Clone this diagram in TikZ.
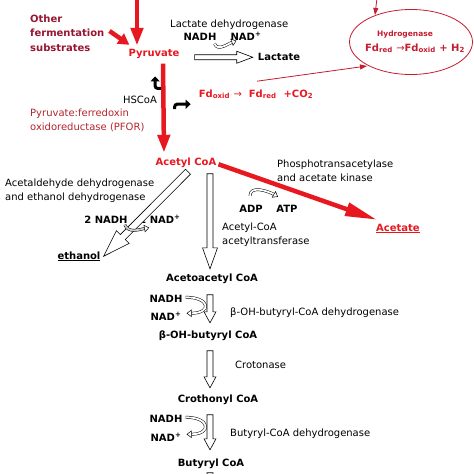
\documentclass[tikz,border=0pt]{standalone}
\usepackage{fontspec}
\setmainfont{DejaVu Sans}
\usetikzlibrary{arrows.meta, calc, shapes.geometric}
\definecolor{fluxred}{RGB}{232,24,32}
\definecolor{subred}{RGB}{150,22,48}
\definecolor{pforred}{RGB}{178,38,44}
\definecolor{hydred}{RGB}{198,28,48}
\tikzset{
    metab/.style={font=\bfseries, inner sep=1pt, anchor=base, text height=8pt, text depth=2.5pt}, % metabolites and cofactors
    enzyme/.style={align=left, inner sep=0pt, font=\fontsize{10}{14}\selectfont}, % enzyme names
    redflux/.style={fluxred, line width=4.5pt, -{Triangle[length=18pt, width=12pt]}}, % main red fluxes
    thinflux/.style={hydred, line width=0.8pt, -{Triangle[length=7pt, width=5pt]}},
    bent/.style={line width=3pt, rounded corners=2.5pt, -{Triangle[length=5pt, width=9pt]}},
    hollowline/.style={draw=black, fill=white, line width=0.6pt},
    hollowbend/.style={line width=0.5pt, double=white, double distance=1.8pt, -{Triangle[fill=white, length=5pt, width=7.5pt, line width=0.5pt]}}
}
% open block arrow: start, end, shaft half width, head half width, head length
\newcommand{\hollowarrow}[5]{%
  \draw[hollowline] let \p1=(#1), \p2=(#2),
    \n1={atan2(\y2-\y1,\x2-\x1)}, \n2={veclen(\x2-\x1,\y2-\y1)} in
    ($(\p1)+({\n1-90}:#3)$) -- ($(\p1)+(\n1:{\n2-#5})+({\n1-90}:#3)$)
    -- ($(\p1)+(\n1:{\n2-#5})+({\n1-90}:#4)$) -- (\p2)
    -- ($(\p1)+(\n1:{\n2-#5})+({\n1+90}:#4)$) -- ($(\p1)+(\n1:{\n2-#5})+({\n1+90}:#3)$)
    -- ($(\p1)+({\n1+90}:#3)$) -- cycle;
}

\begin{document}
\begin{tikzpicture}[x=1pt, y=-1pt]
    \useasboundingbox (0,0) rectangle (474,474);

    % metabolites
    \node[metab, fluxred] (pyruvate) at (154,56) {Pyruvate};
    \node[metab] (lactate) at (279,60) {Lactate};
    \node[metab, fluxred] (acetylcoa) at (186,165) {Acetyl CoA};
    \node[metab, fluxred] (acetate) at (398,231) {\underline{Acetate}};
    \node[metab] (ethanol) at (79,259) {\underline{ethanol}};
    \node[metab] (acetoacetyl) at (212,281) {Acetoacetyl CoA};
    \node[metab] (hydroxy) at (208,338) {β-OH-butyryl CoA};
    \node[metab] (crotonyl) at (218,402) {Crothonyl CoA};
    \node[metab] (butyryl) at (211,466) {Butyryl CoA};
    \node[enzyme, anchor=west, subred, font=\bfseries\fontsize{10}{14.5}\selectfont] (other) at (30,33) {Other\\fermentation\\substrates};

    % cofactors
    \node[metab] (ldhnadh) at (200,40) {NADH};
    \node[metab] (ldhnad) at (246,40) {NAD\textsuperscript{+}};
    \node[metab] (nadh2) at (106,223) {2 NADH};
    \node[metab] (nad2) at (160,223) {2 NAD\textsuperscript{+}};
    \node[metab] (adp) at (251,212) {ADP};
    \node[metab] (atp) at (287,212) {ATP};
    \node[metab] (bnadh) at (166,302) {NADH};
    \node[metab] (bnad) at (166,320) {NAD\textsuperscript{+}};
    \node[metab] (cnadh) at (166,422) {NADH};
    \node[metab] (cnad) at (166,441) {NAD\textsuperscript{+}};
    \node[inner sep=1pt, anchor=base] (hscoa) at (140,103) {HSCoA};
    \node[inner sep=1pt, anchor=base, fluxred, font=\bfseries] (fdox) at (256,97) {Fd\textsubscript{oxid} {\mdseries →} \ Fd\textsubscript{red} \ +CO\textsubscript{2}};

    % enzymes
    \node[enzyme, anchor=base west] (ldh) at (170,27) {Lactate dehydrogenase};
    \node[enzyme, anchor=west, pforred] (pfor) at (30,120) {Pyruvate:ferredoxin\\oxidoreductase (PFOR)};
    \node[enzyme, anchor=west] (pta) at (277,171) {Phosphotransacetylase\\and acetate kinase};
    \node[enzyme, anchor=west] (aad) at (5,191) {Acetaldehyde dehydrogenase\\and ethanol dehydrogenase};
    \node[enzyme, anchor=west] (thl) at (222,235) {Acetyl-CoA\\acetyltransferase};
    \node[enzyme, anchor=base west] (hbd) at (230,315) {β-OH-butyryl-CoA dehydrogenase};
    \node[enzyme, anchor=base west] (crt) at (235,368) {Crotonase};
    \node[enzyme, anchor=base west] (bcd) at (230,436) {Butyryl-CoA dehydrogenase};

    % hydrogenase
    \node[ellipse, draw=hydred, line width=0.8pt, minimum width=123pt, minimum height=65pt, inner sep=0pt] (hyd) at (411,42) {};
    \node[hydred, inner sep=0pt, anchor=base, font=\bfseries\fontsize{7.5}{9}\selectfont] (hydname) at (405,36) {Hydrogenase};
    \node[hydred, inner sep=0pt, anchor=base, font=\bfseries] (hydeq) at (415,51) {Fd\textsubscript{red} {\mdseries →}Fd\textsubscript{oxid} + H\textsubscript{2}};

    % red fluxes
    \draw[redflux] ([shift={(-17,-60)}]pyruvate.north) -- ([shift={(-17,-1)}]pyruvate.north);
    \draw[redflux, -{Triangle[length=11pt, width=12pt]}] ([shift={(5,-2)}]other.east) -- ([shift={(2,-2)}]pyruvate.north west);
    \draw[redflux] ([shift={(9,4)}]pyruvate.south) -- ([shift={(-22,-3)}]acetylcoa.north);
    \draw[redflux, -{Triangle[length=32pt, width=13pt]}] ([shift={(1,2)}]acetylcoa.east) -- ([shift={(2,-2)}]acetate.north west);
    \draw[thinflux] ($(hyd.center)+(-34,-44)$) -- ($(hyd.center)+(-36,-27)$);
    \draw[thinflux] ([shift={(1,-7)}]fdox.north) -- ($(hyd.center)+(-44,24)$);

    % HSCoA in, Fd out
    \draw[bent] ([shift={(3,-6)}]hscoa.north east) -| ([shift={(-3,-18)}]hscoa.north east);
    \draw[bent] ([shift={(-23,15)}]fdox.west) |- ([shift={(-7,10)}]fdox.west);

    % open arrows
    \hollowarrow{$(pyruvate.east)+(14,4)$}{$(lactate.west)+(-4,0)$}{2.5pt}{6pt}{16pt}
    \hollowarrow{$(acetylcoa.south -| acetoacetyl.south)+(-2,5)$}{$(acetoacetyl.north)+(-2,-3)$}{3pt}{7.5pt}{21pt}
    \hollowarrow{$(acetylcoa.south)+(2,3)$}{$(ethanol.east)+(2,0)$}{3.5pt}{9pt}{27pt}
    \hollowarrow{$(acetoacetyl.south)+(-2,10)$}{$(hydroxy.north -| acetoacetyl.south)+(-2,-6)$}{3pt}{6pt}{11pt}
    \hollowarrow{$(hydroxy.south -| acetoacetyl.south)+(-2,9)$}{$(crotonyl.north -| acetoacetyl.south)+(-2,-5)$}{3pt}{6pt}{11pt}
    \hollowarrow{$(crotonyl.south -| acetoacetyl.south)+(-2,9)$}{$(butyryl.north -| acetoacetyl.south)+(-2,-7)$}{3pt}{6pt}{11pt}
    \hollowarrow{$(butyryl.south -| acetoacetyl.south)+(-2,3)$}{$(butyryl.south -| acetoacetyl.south)+(-2,40)$}{3pt}{6pt}{11pt}

    % cofactor turns
    \draw[hollowbend] ([shift={(-3,0)}]ldhnadh.south east) to[out=-70, in=200] ([shift={(7,-3)}]ldhnad.south west);
    \draw[hollowbend] ([shift={(-1,-7)}]adp.north) to[out=90, in=150] ([shift={(-9,-6)}]atp.north);
    \draw[hollowbend, double=gray!40] ([shift={(-4,-2)}]nadh2.south east) to[out=-70, in=190] ([shift={(11,1)}]nad2.south west);
    \draw[hollowbend] ([shift={(2,-2)}]bnadh.east) .. controls +(25,0) and +(25,0) .. ([shift={(4,-4)}]bnad.east);
    \draw[hollowbend] ([shift={(2,-2)}]cnadh.east) .. controls +(25,0) and +(25,0) .. ([shift={(4,-4)}]cnad.east);
\end{tikzpicture}
\end{document}
